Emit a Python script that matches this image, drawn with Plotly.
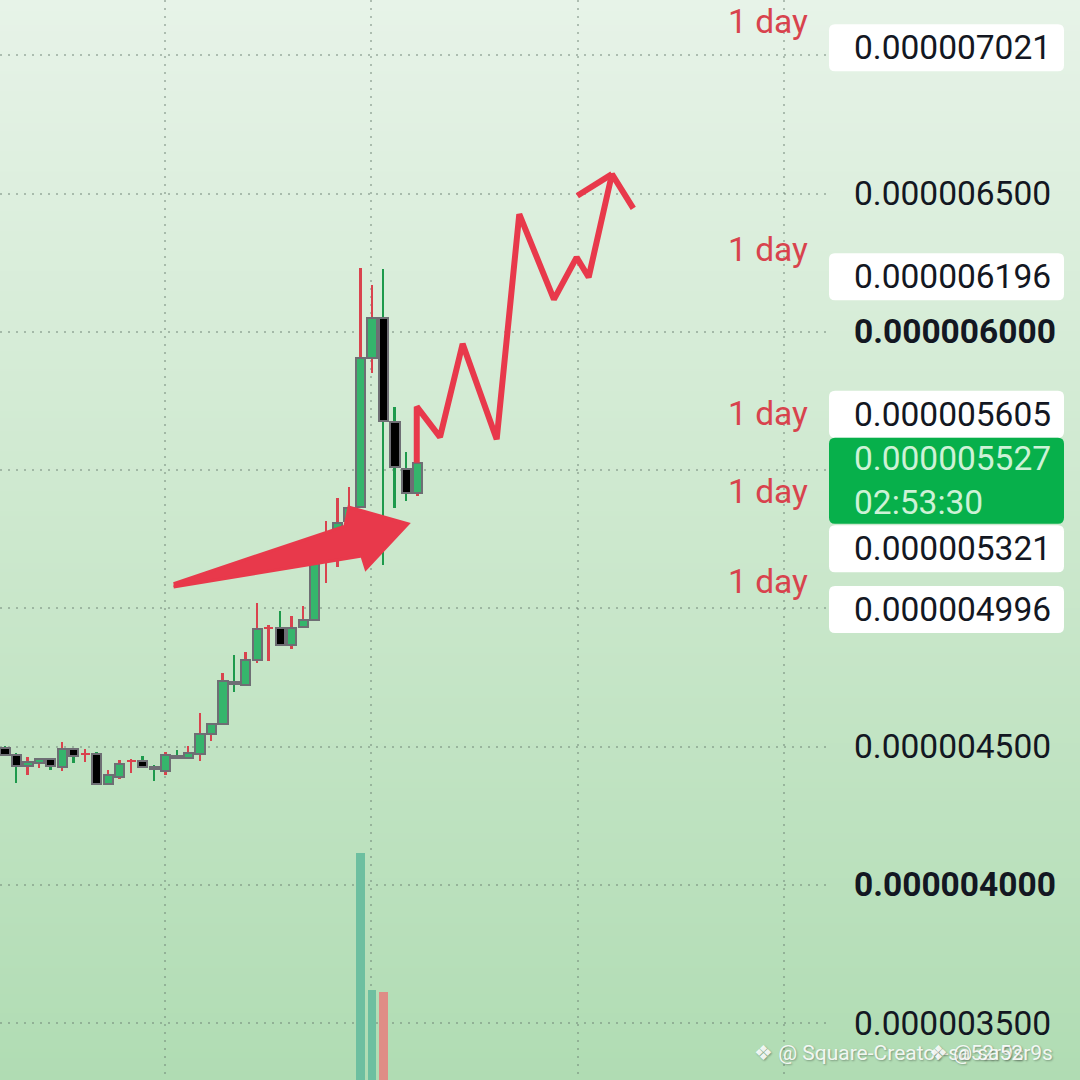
import plotly.graph_objects as go

# ---------------- data (prices in units of 1e-9) ----------------
SCALE = 1e-9
candle_idx = list(range(37))
open_n = [4494, 4470, 4430, 4442, 4455, 4428, 4491, 4472, 4473, 4364, 4392, 4448, 4448, 4427, 4413, 4466, 4459,
          4474, 4545, 4581, 4734, 4722, 4814, 4929, 4928, 4868, 4932, 4958, 5172, 5184, 5316, 5368, 5905, 6050,
          5676, 5505, 5417]
high_n = [4503, 4476, 4464, 4460, 4457, 4518, 4494, 4491, 4480, 4416, 4452, 4456, 4466, 4434, 4482, 4488, 4503,
          4623, 4582, 4766, 4832, 4844, 5021, 4940, 4991, 4973, 5009, 5183, 5316, 5398, 5438, 6230, 6170, 6228,
          5730, 5567, 5530]
low_n = [4470, 4370, 4398, 4424, 4416, 4412, 4442, 4446, 4363, 4363, 4383, 4406, 4424, 4377, 4399, 4458, 4458,
         4450, 4519, 4580, 4699, 4721, 4804, 4811, 4867, 4852, 4928, 4957, 5092, 5151, 5315, 5367, 5851, 5157,
         5362, 5390, 5407]
close_n = [4470, 4430, 4445, 4455, 4430, 4491, 4466, 4472, 4364, 4398, 4436, 4448, 4426, 4420, 4470, 4460, 4477,
           4545, 4581, 4738, 4727, 4814, 4925, 4929, 4868, 4931, 4958, 5169, 5175, 5310, 5365, 5905, 6050, 5678,
           5513, 5419, 5527]
volume = [0, 0, 0, 0, 0, 0, 0, 0, 0, 0, 0, 0, 0, 0, 0, 0, 0, 0, 0, 0, 0, 0, 0, 0, 0, 0, 0, 0, 0, 0, 0,
          2270, 900, 880, 0, 0, 0]

level_lines = [7021, 6196, 5605, 5321, 4996]
level_text = "1 day"
last_price = 5527
countdown = "02:53:30"
grid_levels = [3500, 4000, 4500, 5000, 5500, 6000, 6500, 7000]
axis_labels = [6500, 6000, 4500, 4000, 3500]
bold_labels = [6000, 4000]

# hand-drawn arrow (candle index, price 1e-9)
arrow_x = [14.7, 29.64, 29.99, 35.14, 31.47, 31.12, 14.7]
arrow_y = [5090, 5298, 5367, 5306, 5143, 5190, 5078]
# hand-drawn forecast zigzag
path_x = [35.9, 35.9, 37.93, 39.9, 42.87, 44.84, 47.86, 49.84, 50.89, 52.92, 54.78, None, 49.9, 52.92]
path_y = [5527, 5730, 5620, 5957, 5612, 6426, 6118, 6270, 6198, 6571, 6447, None, 6493, 6571]

watermark_1 = "❖ @ Square-Creator-sa52r9s"
watermark_2 = "❖ @ sa52r9s"

# ---------------- styling ----------------
RED = "#e8394b"
TXT_RED = "#d8434d"
BODY_GREEN = "#35b56c"
BORDER = "#6e6e74"
WICK_UP = "#d9434e"
WICK_DN = "#1e9a4c"
GRID = "rgba(105,125,110,0.45)"
FONT = "Roboto"
FS = 33.5

W = H = 1080
PLOT_R = 827 / W
LABEL_X = 852 / W

o = [v * SCALE for v in open_n]
h = [v * SCALE for v in high_n]
l = [v * SCALE for v in low_n]
c = [v * SCALE for v in close_n]

up = [cc >= oo for oo, cc in zip(o, c)]
doji = [oo == cc for oo, cc in zip(open_n, close_n)]

fig = go.Figure()

# background gradient (full page)
fig.add_trace(go.Heatmap(x=[0, 1], y=[0, 1], z=[[0, 0], [1, 1]], zsmooth="best",
                         colorscale=[[0, "#b0dcb3"], [0.5, "#cce8cd"], [1, "#e7f3e8"]],
                         showscale=False, hoverinfo="skip", xaxis="x", yaxis="y"))

# volume
fig.add_trace(go.Bar(x=candle_idx, y=volume, width=0.78, xaxis="x2", yaxis="y3",
                     marker=dict(color=["#6dbfa0" if u else "#df8d86" for u in up], line=dict(width=0)),
                     hoverinfo="skip"))

# arrow
fig.add_trace(go.Scatter(x=arrow_x, y=[v * SCALE for v in arrow_y], mode="lines", fill="toself",
                         fillcolor=RED, line=dict(color=RED, width=3), xaxis="x2", yaxis="y2",
                         hoverinfo="skip"))

# wicks
fig.add_trace(go.Bar(x=candle_idx, base=l, y=[hh - ll for hh, ll in zip(h, l)], width=0.17,
                     marker=dict(color=[WICK_UP if u else WICK_DN for u in up], line=dict(width=0)),
                     xaxis="x2", yaxis="y2", hoverinfo="skip"))

# bodies
fig.add_trace(go.Bar(x=candle_idx, base=[min(a, b) for a, b in zip(o, c)],
                     y=[max(abs(b - a), 0.6 * SCALE) for a, b in zip(o, c)], width=0.8,
                     marker=dict(color=[BODY_GREEN if u else "#000000" for u in up],
                                 line=dict(color=[WICK_UP if d else BORDER for d in doji], width=2)),
                     xaxis="x2", yaxis="y2", hoverinfo="skip"))

# forecast zigzag
fig.add_trace(go.Scatter(x=path_x, y=[v * SCALE if v is not None else None for v in path_y], mode="lines",
                         line=dict(color=RED, width=6), xaxis="x2", yaxis="y2", hoverinfo="skip",
                         connectgaps=False))

shapes = []
annotations = []

# white level lines
for lv in level_lines:
    shapes.append(dict(type="line", xref="x2 domain", x0=0, x1=1, yref="y2", y0=lv * SCALE, y1=lv * SCALE,
                       line=dict(color="white", width=2), layer="below"))
    annotations.append(dict(xref="paper", x=810 / W, xanchor="right", yref="y2", y=lv * SCALE, yshift=28,
                            yanchor="middle", text=level_text, showarrow=False,
                            font=dict(family=FONT, size=FS, color=TXT_RED)))

# last price dotted line
shapes.append(dict(type="line", xref="x2 domain", x0=0, x1=1, yref="y2", y0=last_price * SCALE,
                   y1=last_price * SCALE, line=dict(color="#1aa553", width=2, dash="2px,4px"), layer="below"))


def rr(w, hgt, r, cy):
    y0 = cy - hgt / 2
    y1 = cy + hgt / 2
    return (f"M {r},{y0} L {w - r},{y0} Q {w},{y0} {w},{y0 + r} L {w},{y1 - r} Q {w},{y1} {w - r},{y1} "
            f"L {r},{y1} Q 0,{y1} 0,{y1 - r} L 0,{y0 + r} Q 0,{y0} {r},{y0} Z")


box_shift = {7021: 2, 6196: 1, 5605: 27, 5321: -29, 4996: 0}
for lv in level_lines:
    s = box_shift[lv]
    shapes.append(dict(type="path", xref="paper", xsizemode="pixel", xanchor=829 / W,
                       yref="y2", ysizemode="pixel", yanchor=lv * SCALE, path=rr(235, 47, 6, s),
                       fillcolor="white", line=dict(width=0), layer="above"))
    annotations.append(dict(xref="paper", x=LABEL_X, xanchor="left", yref="y2", y=lv * SCALE, yshift=s,
                            yanchor="middle", text=f"{lv * SCALE:.9f}", showarrow=False,
                            font=dict(family=FONT, size=FS, color="#131722")))

# last price green box
shapes.append(dict(type="path", xref="paper", xsizemode="pixel", xanchor=829 / W,
                   yref="y2", ysizemode="pixel", yanchor=last_price * SCALE, path=rr(235, 86, 6, -18),
                   fillcolor="#07b04b", line=dict(width=0), layer="above"))
annotations.append(dict(xref="paper", x=LABEL_X, xanchor="left", yref="y2", y=last_price * SCALE, yshift=-18,
                        yanchor="middle", align="left", text=f"{last_price * SCALE:.9f}<br>{countdown}",
                        showarrow=False, font=dict(family=FONT, size=FS, color="#cdf2d6")))

# axis labels
for lv in axis_labels:
    t = f"{lv * SCALE:.9f}"
    if lv in bold_labels:
        t = f"<b>{t}</b>"
    annotations.append(dict(xref="paper", x=LABEL_X, xanchor="left", yref="y2", y=lv * SCALE,
                            yanchor="middle", text=t, showarrow=False,
                            font=dict(family=FONT, size=FS, color="#131722")))

# watermark
wm_font = dict(family=FONT, size=21, color="rgba(255,255,255,0.9)", shadow="1px 1px 2px rgba(0,0,0,0.35)")
annotations.append(dict(xref="paper", yref="paper", x=752 / W, y=1 - 1053 / H, xanchor="left", yanchor="middle",
                        text=watermark_1, showarrow=False, font=wm_font))
annotations.append(dict(xref="paper", yref="paper", x=927 / W, y=1 - 1053 / H, xanchor="left", yanchor="middle",
                        text=watermark_2, showarrow=False, font=wm_font))

fig.update_layout(
    width=W, height=H, margin=dict(l=0, r=0, t=0, b=0),
    paper_bgcolor="#cce8cd", plot_bgcolor="rgba(0,0,0,0)",
    showlegend=False, barmode="overlay", bargap=0,
    font=dict(family=FONT),
    xaxis=dict(domain=[0, 1], range=[0, 1], visible=False, fixedrange=True),
    yaxis=dict(domain=[0, 1], range=[0, 1], visible=False, fixedrange=True),
    xaxis2=dict(domain=[0, PLOT_R], range=[-0.436, 71.67], anchor="y2",
                tickvals=[13.95, 31.95, 49.95, 67.95], showticklabels=False, ticks="",
                showgrid=True, gridcolor=GRID, gridwidth=2, griddash="2px,6px",
                zeroline=False, showline=False),
    yaxis2=dict(domain=[0, 1], range=[3294.7 * SCALE, 7200.7 * SCALE], anchor="x2",
                tickvals=[v * SCALE for v in grid_levels], showticklabels=False, ticks="",
                showgrid=True, gridcolor=GRID, gridwidth=2, griddash="2px,6px",
                zeroline=False, showline=False),
    yaxis3=dict(overlaying="y2", range=[0, 10800], visible=False, anchor="x2"),
    shapes=shapes, annotations=annotations,
)

fig.write_html("out.html", config={"displayModeBar": False},
               post_script="document.body.style.margin='0';document.body.style.overflow='hidden';")
